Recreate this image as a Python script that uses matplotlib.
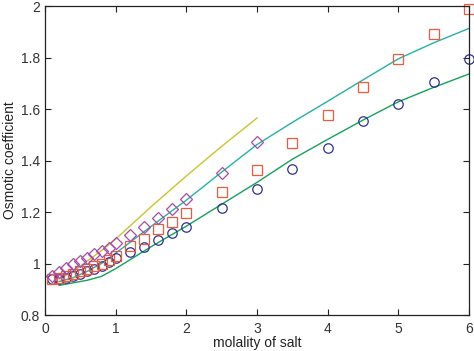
import matplotlib
matplotlib.use("Agg")
import matplotlib.pyplot as plt

plt.rcParams['font.family'] = ['Liberation Sans', 'DejaVu Sans']

# Experimental data
x_low = [0.1, 0.2, 0.3, 0.4, 0.5, 0.6, 0.7, 0.8, 0.9, 1.0, 1.2, 1.4, 1.6, 1.8, 2.0]
x_high = [2.5, 3.0, 3.5, 4.0, 4.5, 5.0, 5.5, 6.0]

circ_x = x_low + x_high
circ_y = [0.94, 0.94, 0.945, 0.95, 0.96, 0.97, 0.98, 0.99, 1.005, 1.02,
          1.043, 1.065, 1.091, 1.12, 1.143,
          1.214, 1.288, 1.367, 1.45, 1.555, 1.621, 1.705, 1.793]

sq_x = x_low + x_high
sq_y = [0.94, 0.945, 0.95, 0.96, 0.97, 0.98, 0.99, 1.0, 1.015, 1.03,
        1.068, 1.095, 1.133, 1.162, 1.195,
        1.278, 1.363, 1.469, 1.578, 1.687, 1.795, 1.891, 1.988]

dia_x = x_low + [2.5, 3.0]
dia_y = [0.951, 0.968, 0.981, 0.997, 1.011, 1.023, 1.036, 1.049, 1.061, 1.081,
         1.111, 1.143, 1.178, 1.212, 1.250, 1.353, 1.47]

# Model curves
yel_x = [0.2, 0.4, 0.6, 0.8, 1.0, 1.5, 2.0, 2.5, 3.0]
yel_y = [0.94, 0.97, 1.01, 1.05, 1.095, 1.22, 1.34, 1.455, 1.565]

teal_x = [0.2, 0.4, 0.6, 0.8, 1.0, 1.5, 2.0, 2.5, 3.0, 3.5, 4.0, 4.5, 5.0, 5.5, 6.0]
teal_y = [0.93, 0.945, 0.97, 1.0, 1.04, 1.144, 1.246, 1.355, 1.462, 1.548,
          1.63, 1.713, 1.795, 1.857, 1.913]

grn_x = [0.2, 0.4, 0.6, 0.8, 1.0, 1.5, 2.0, 2.5, 3.0, 3.5, 4.0, 4.5, 5.0, 5.5, 6.0]
grn_y = [0.915, 0.925, 0.935, 0.95, 0.98, 1.065, 1.145, 1.23, 1.315, 1.405,
         1.482, 1.557, 1.628, 1.684, 1.736]

x_ticks = [0, 1, 2, 3, 4, 5, 6]
y_ticks = [0.8, 1.0, 1.2, 1.4, 1.6, 1.8, 2.0]
y_tick_labels = ['0.8', '1', '1.2', '1.4', '1.6', '1.8', '2']

fig = plt.figure(figsize=(4.74, 3.51), dpi=100)
ax = fig.add_axes([45/474, 1 - 315/351, (469 - 45)/474, (315 - 6)/351])

ax.plot(yel_x, yel_y, color='#cbc52a', lw=1.0)
ax.plot(teal_x, teal_y, color='#22b2a6', lw=1.0)
ax.plot(grn_x, grn_y, color='#13a25a', lw=1.0)

ax.plot(circ_x, circ_y, 'o', ms=6.8, mfc='none', mec='#2e3192', mew=0.9, clip_on=False)
ax.plot(sq_x, sq_y, 's', ms=6.5, mfc='none', mec='#f05a3c', mew=0.9, clip_on=False)
ax.plot(dia_x, dia_y, 'D', ms=6.2, mfc='none', mec='#a84aa8', mew=0.9, clip_on=False)

ax.set_xlim(0, 6)
ax.set_ylim(0.8, 2.0)
ax.set_xticks(x_ticks)
ax.set_yticks(y_ticks)
ax.set_yticklabels(y_tick_labels)
ax.tick_params(direction='in', top=True, right=True, length=4, width=0.8,
               labelsize=10, colors='#222222', labelcolor='#333333')
ax.tick_params(axis='x', pad=5)
for s in ax.spines.values():
    s.set_linewidth(0.9)
    s.set_color('#222222')

ax.set_xlabel('molality of salt', fontsize=10, color='#222222', labelpad=0)
ax.set_ylabel('Osmotic coefficient', fontsize=10, color='#222222', labelpad=3)

fig.savefig('out.png', dpi=100)
